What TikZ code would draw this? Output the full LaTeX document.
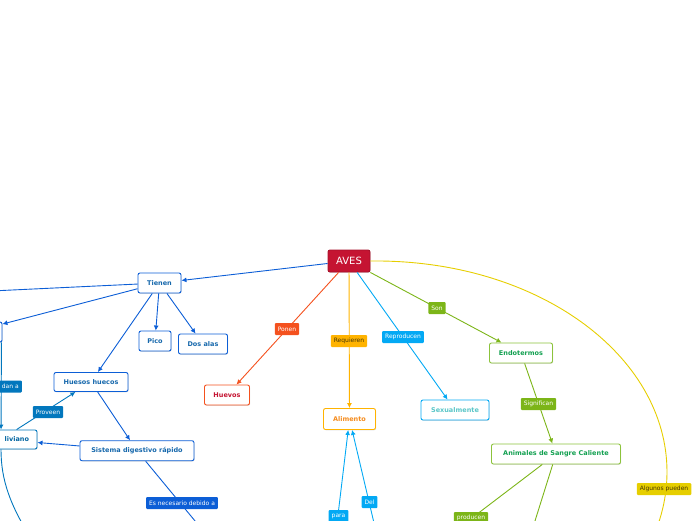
\documentclass[tikz,border=0pt]{standalone}
\usepackage{fontspec}
\setmainfont{DejaVu Sans}
\usetikzlibrary{arrows.meta,shadows}
\definecolor{avesred}{RGB}{197,20,50}
\definecolor{eblue}{RGB}{12,94,214}
\definecolor{btext}{RGB}{22,104,172}
\definecolor{lblue}{RGB}{2,119,189}
\definecolor{orng}{RGB}{244,81,30}
\definecolor{amber}{RGB}{255,179,0}
\definecolor{atext}{RGB}{245,140,30}
\definecolor{sky}{RGB}{3,169,244}
\definecolor{stext}{RGB}{90,198,200}
\definecolor{grn}{RGB}{124,181,24}
\definecolor{gborder}{RGB}{140,195,60}
\definecolor{gtext}{RGB}{18,160,80}
\definecolor{ylw}{RGB}{230,206,0}
\definecolor{darktx}{RGB}{70,55,5}
\tikzset{
  box/.style={draw, rounded corners=2pt, fill=white, line width=0.9pt,
    font=\fontsize{6.5}{7.5}\selectfont\bfseries, inner sep=2pt,
    drop shadow={shadow xshift=0.6pt, shadow yshift=-0.8pt, opacity=0.25}},
  bluebox/.style={box, draw=eblue, text=btext},
  lab/.style={rounded corners=1pt, font=\fontsize{6}{7}\selectfont, text=white,
    inner xsep=3pt, inner ysep=0pt, minimum height=12pt},
  con/.style={line width=0.9pt, -{Latex[length=5pt,width=5pt]}},
  plain/.style={line width=0.9pt},
}
\begin{document}
\begin{tikzpicture}[x=1pt,y=-1pt]
\useasboundingbox (0,0) rectangle (696,520);
\clip (0,0) rectangle (696,520);

% nodes
\node[box, draw=avesred!85!black, fill=avesred, text=white, font=\fontsize{10}{12}\selectfont,
  minimum width=42pt, minimum height=22pt] (AVES) at (349,261) {AVES};
\node[bluebox, minimum width=43pt, minimum height=20pt] (Tienen) at (159.5,283) {Tienen};
\node[bluebox, minimum width=32pt, minimum height=20pt] (Pico) at (155,341) {Pico};
\node[bluebox, minimum width=49pt, minimum height=20pt] (Dos) at (203,344) {Dos alas};
\node[bluebox, minimum width=74pt, minimum height=19pt] (Huesos) at (91,382) {Huesos huecos};
\node[bluebox, minimum width=114pt, minimum height=20pt] (Sist) at (137,450.7) {Sistema digestivo rápido};
\node[box, draw=lblue, text=lblue!85!black, text width=56pt, align=right, inner xsep=8pt,
  minimum height=19pt] (Liv) at (1,439.5) {liviano};
\node[box, draw=eblue, minimum width=60pt, minimum height=20pt] (leftN) at (-28,332) {};
\node[box, draw=orng, text=avesred, minimum width=45pt, minimum height=20pt] (Huevos) at (227,395) {Huevos};
\node[box, draw=amber, text=atext, minimum width=52pt, minimum height=21pt] (Alim) at (349.5,419) {Alimento};
\node[box, draw=sky, text=stext, minimum width=68pt, minimum height=20pt] (Sex) at (455,410) {Sexualmente};
\node[box, draw=gborder, text=gtext, minimum width=63pt, minimum height=20pt] (Endo) at (521,353) {Endotermos};
\node[box, draw=gborder, text=gtext, minimum width=129pt, minimum height=20pt] (Anim) at (556,454) {Animales de Sangre Caliente};

% off-canvas ends
\coordinate (offA) at (-30,292);
\coordinate (offB) at (205,533);
\coordinate (offP) at (443,540);
\coordinate (offQ) at (529,540);
\coordinate (paraSrc) at (335,540);
\coordinate (delSrc) at (378,540);
\coordinate (livEnd) at (32,540);
\coordinate (yEnd) at (377,684);

% connectors
\draw[con, eblue] (AVES) -- (Tienen);
\draw[plain, eblue] (Tienen) -- (offA);
\draw[con, eblue] (Tienen) -- (leftN);
\draw[con, eblue] (Tienen) -- (Huesos);
\draw[con, eblue] (Tienen) -- (Pico);
\draw[con, eblue] (Tienen) -- (Dos);
\draw[con, eblue] (Huesos) -- (Sist);
\draw[con, eblue] (Sist) -- (Liv);
\draw[plain, eblue] (Sist) -- (offB);
\draw[con, lblue] (Liv) -- (Huesos);
\draw[con, lblue] ([xshift=-1pt]leftN.south east) -- (Liv);
\draw[plain, lblue] (Liv.south) .. controls (1,480) and (10,505) .. (livEnd);

\draw[con, orng] (AVES) -- (Huevos);
\draw[con, amber] (AVES) -- (Alim);
\draw[con, sky] (AVES) -- (Sex);
\draw[con, grn] (AVES) -- (Endo);
\draw[con, grn] (Endo) -- (Anim);
\draw[plain, grn] (Anim) -- (offP);
\draw[plain, grn] (Anim) -- (offQ);
\draw[con, sky] (paraSrc) -- (Alim);
\draw[con, sky] (delSrc) -- (Alim);
\draw[plain, ylw] (AVES.east) .. controls (537,259) and (667,355) .. (667,472)
  .. controls (667,589) and (537,684) .. (yEnd);

% connector labels
\node[lab, fill=orng] (lPonen) at (287,329) {Ponen};
\node[lab, fill=amber, text=darktx] (lReq) at (349,341) {Requieren};
\node[lab, fill=sky] (lRep) at (403,337) {Reproducen};
\node[lab, fill=grn] (lSon) at (437,308) {Son};
\node[lab, fill=grn] (lSig) at (538.5,404) {Significan};
\node[lab, fill=grn] (lProd) at (471,518) {producen};
\node[lab, fill=ylw, text=darktx] (lAlg) at (664,489) {Algunos pueden};
\node[lab, fill=eblue] (lNec) at (182,503) {Es necesario debido a};
\node[lab, fill=sky] (lPara) at (338.5,516) {para};
\node[lab, fill=sky] (lDel) at (369.5,502) {Del};
\node[lab, fill=lblue] (lProv) at (48,412) {Proveen};
\node[lab, fill=lblue, anchor=east] (lDan) at (22,386.5) {dan a};
\end{tikzpicture}
\end{document}
